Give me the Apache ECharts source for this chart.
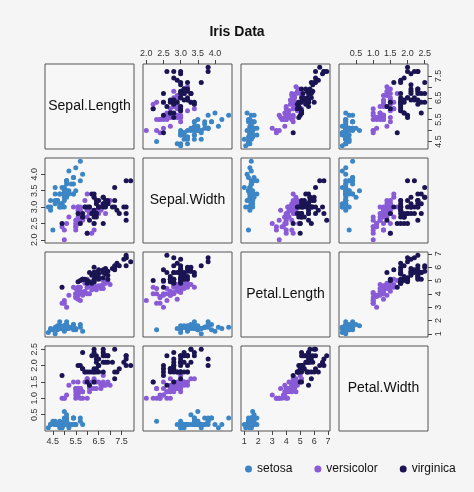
<!DOCTYPE html><html><head><meta charset="utf-8">
<script src="https://cdn.jsdelivr.net/npm/echarts@6/dist/echarts.min.js"></script>
<style>html,body{margin:0;background:#f5f5f5}#c{width:474px;height:492px}</style></head><body><div id="c"></div>
<script>
const speciesNames=['setosa','versicolor','virginica'];
const colors=['#3d86c6','#8a5bd6','#1a1552'];
const varNames=['Sepal.Length','Sepal.Width','Petal.Length','Petal.Width'];
const sepalLength=[5.1,4.9,4.7,4.6,5.0,5.4,4.6,5.0,4.4,4.9,5.4,4.8,4.8,4.3,5.8,5.7,5.4,5.1,5.7,5.1,5.4,5.1,4.6,5.1,4.8,5.0,5.0,5.2,5.2,4.7,4.8,5.4,5.2,5.5,4.9,5.0,5.5,4.9,4.4,5.1,5.0,4.5,4.4,5.0,5.1,4.8,5.1,4.6,5.3,5.0,
7.0,6.4,6.9,5.5,6.5,5.7,6.3,4.9,6.6,5.2,5.0,5.9,6.0,6.1,5.6,6.7,5.6,5.8,6.2,5.6,5.9,6.1,6.3,6.1,6.4,6.6,6.8,6.7,6.0,5.7,5.5,5.5,5.8,6.0,5.4,6.0,6.7,6.3,5.6,5.5,5.5,6.1,5.8,5.0,5.6,5.7,5.7,6.2,5.1,5.7,
6.3,5.8,7.1,6.3,6.5,7.6,4.9,7.3,6.7,7.2,6.5,6.4,6.8,5.7,5.8,6.4,6.5,7.7,7.7,6.0,6.9,5.6,7.7,6.3,6.7,7.2,6.2,6.1,6.4,7.2,7.4,7.9,6.4,6.3,6.1,7.7,6.3,6.4,6.0,6.9,6.7,6.9,5.8,6.8,6.7,6.7,6.3,6.5,6.2,5.9];
const sepalWidth=[3.5,3.0,3.2,3.1,3.6,3.9,3.4,3.4,2.9,3.1,3.7,3.4,3.0,3.0,4.0,4.4,3.9,3.5,3.8,3.8,3.4,3.7,3.6,3.3,3.4,3.0,3.4,3.5,3.4,3.2,3.1,3.4,4.1,4.2,3.1,3.2,3.5,3.6,3.0,3.4,3.5,2.3,3.2,3.5,3.8,3.0,3.8,3.2,3.7,3.3,
3.2,3.2,3.1,2.3,2.8,2.8,3.3,2.4,2.9,2.7,2.0,3.0,2.2,2.9,2.9,3.1,3.0,2.7,2.2,2.5,3.2,2.8,2.5,2.8,2.9,3.0,2.8,3.0,2.9,2.6,2.4,2.4,2.7,2.7,3.0,3.4,3.1,2.3,3.0,2.5,2.6,3.0,2.6,2.3,2.7,3.0,2.9,2.9,2.5,2.8,
3.3,2.7,3.0,2.9,3.0,3.0,2.5,2.9,2.5,3.6,3.2,2.7,3.0,2.5,2.8,3.2,3.0,3.8,2.6,2.2,3.2,2.8,2.8,2.7,3.3,3.2,2.8,3.0,2.8,3.0,2.8,3.8,2.8,2.8,2.6,3.0,3.4,3.1,3.0,3.1,3.1,3.1,2.7,3.2,3.3,3.0,2.5,3.0,3.4,3.0];
const petalLength=[1.4,1.4,1.3,1.5,1.4,1.7,1.4,1.5,1.4,1.5,1.5,1.6,1.4,1.1,1.2,1.5,1.3,1.4,1.7,1.5,1.7,1.5,1.0,1.7,1.9,1.6,1.6,1.5,1.4,1.6,1.6,1.5,1.5,1.4,1.5,1.2,1.3,1.4,1.3,1.5,1.3,1.3,1.3,1.6,1.9,1.4,1.6,1.4,1.5,1.4,
4.7,4.5,4.9,4.0,4.6,4.5,4.7,3.3,4.6,3.9,3.5,4.2,4.0,4.7,3.6,4.4,4.5,4.1,4.5,3.9,4.8,4.0,4.9,4.7,4.3,4.4,4.8,5.0,4.5,3.5,3.8,3.7,3.9,5.1,4.5,4.5,4.7,4.4,4.1,4.0,4.4,4.6,4.0,3.3,4.2,4.2,4.2,4.3,3.0,4.1,
6.0,5.1,5.9,5.6,5.8,6.6,4.5,6.3,5.8,6.1,5.1,5.3,5.5,5.0,5.1,5.3,5.5,6.7,6.9,5.0,5.7,4.9,6.7,4.9,5.7,6.0,4.8,4.9,5.6,5.8,6.1,6.4,5.6,5.1,5.6,6.1,5.6,5.5,4.8,5.4,5.6,5.1,5.1,5.9,5.7,5.2,5.0,5.2,5.4,5.1];
const petalWidth=[0.2,0.2,0.2,0.2,0.2,0.4,0.3,0.2,0.2,0.1,0.2,0.2,0.1,0.1,0.2,0.4,0.4,0.3,0.3,0.3,0.2,0.4,0.2,0.5,0.2,0.2,0.4,0.2,0.2,0.2,0.2,0.4,0.1,0.2,0.2,0.2,0.2,0.1,0.2,0.2,0.3,0.3,0.2,0.6,0.4,0.3,0.2,0.2,0.2,0.2,
1.4,1.5,1.5,1.3,1.5,1.3,1.6,1.0,1.3,1.4,1.0,1.5,1.0,1.4,1.3,1.4,1.5,1.0,1.5,1.1,1.8,1.3,1.5,1.2,1.3,1.4,1.4,1.7,1.5,1.0,1.1,1.0,1.2,1.6,1.5,1.6,1.5,1.3,1.3,1.3,1.2,1.4,1.2,1.0,1.3,1.2,1.3,1.3,1.1,1.3,
2.5,1.9,2.1,1.8,2.2,2.1,1.7,1.8,1.8,2.5,2.0,1.9,2.1,2.0,2.4,2.3,1.8,2.2,2.3,1.5,2.3,2.0,2.0,1.8,2.1,1.8,1.8,1.8,2.1,1.6,1.9,2.0,2.2,1.5,1.4,2.3,2.4,1.8,1.8,2.1,2.4,2.3,1.9,2.3,2.5,2.3,1.9,2.0,2.3,1.8];
const speciesIndex=[].concat(Array(50).fill(0),Array(50).fill(1),Array(50).fill(2));
const tickValues=[[4.5,5,5.5,6,6.5,7,7.5],[2,2.5,3,3.5,4],[1,2,3,4,5,6,7],[0.5,1,1.5,2,2.5]];
const tickLabels=[['4.5','5.5','6.5','7.5'],['2.0','2.5','3.0','3.5','4.0'],['1','2','3','4','5','6','7'],['0.5','1.0','1.5','2.0','2.5']];

const vars=[sepalLength,sepalWidth,petalLength,petalWidth];
const ranges=vars.map(v=>{const mn=Math.min(...v),mx=Math.max(...v),p=(mx-mn)*0.04;return [mn-p,mx+p];});
const L=[45,143,241,339],T=[64,158,252,346],W=89,H=85;
const grid=[],xAxis=[],yAxis=[],series=[],graphic=[];
const lbl={fontSize:9,color:'#333',fontFamily:'Liberation Sans'};
function axisCfg(k,show,pos,isY,gi){
  const c={type:'value',gridIndex:gi,min:ranges[k][0],max:ranges[k][1],position:pos,splitLine:{show:false},axisLine:{show:false},
    axisTick:{show:show,length:4,lineStyle:{color:'#444'},customValues:tickValues[k]},
    axisLabel:{show:show,...lbl,margin:6,customValues:tickLabels[k].map(Number),formatter:v=>tickLabels[k].find(s=>Number(s)===v)||'',rotate:isY?90:0}};
  return c;
}
let gi=0;
for(let r=0;r<4;r++)for(let c=0;c<4;c++){
  grid.push({left:L[c],top:T[r],width:W,height:H,show:true,backgroundColor:'#f7f7f7',borderColor:'#555',borderWidth:1});
  const showTop=r===0&&(c%2===1), showBottom=r===3&&(c%2===0);
  const showLeft=c===0&&(r%2===1), showRight=c===3&&(r%2===0);
  xAxis.push(axisCfg(c,showTop||showBottom,r===0?'top':'bottom',false,gi));
  yAxis.push(axisCfg(r,showLeft||showRight,c===3?'right':'left',true,gi));
  if(r===c){
    graphic.push({type:'text',x:L[c]+W/2,y:T[r]+H/2,style:{text:varNames[r],fontSize:14,fill:'#111',fontFamily:'Liberation Sans',align:'center',verticalAlign:'middle'}});
  } else {
    for(let s=0;s<3;s++){
      const d=[];for(let i=0;i<150;i++)if(speciesIndex[i]===s)d.push([vars[c][i],vars[r][i]]);
      series.push({type:'scatter',name:speciesNames[s],xAxisIndex:gi,yAxisIndex:gi,data:d,symbolSize:5,itemStyle:{color:colors[s],opacity:1},silent:true});
    }
  }
  gi++;
}
const chart=echarts.init(document.getElementById('c'));
chart.setOption({backgroundColor:'#f5f5f5',animation:false,
  title:{text:'Iris Data',left:'center',top:20,textStyle:{fontSize:14,fontWeight:'bold',color:'#111',fontFamily:'Liberation Sans'}},
  legend:{data:speciesNames,left:240,top:458,icon:'circle',itemWidth:7,itemHeight:7,itemGap:22,textStyle:{fontSize:12,color:'#111',fontFamily:'Liberation Sans'}},
  grid,xAxis,yAxis,series,graphic});
</script></body></html>
